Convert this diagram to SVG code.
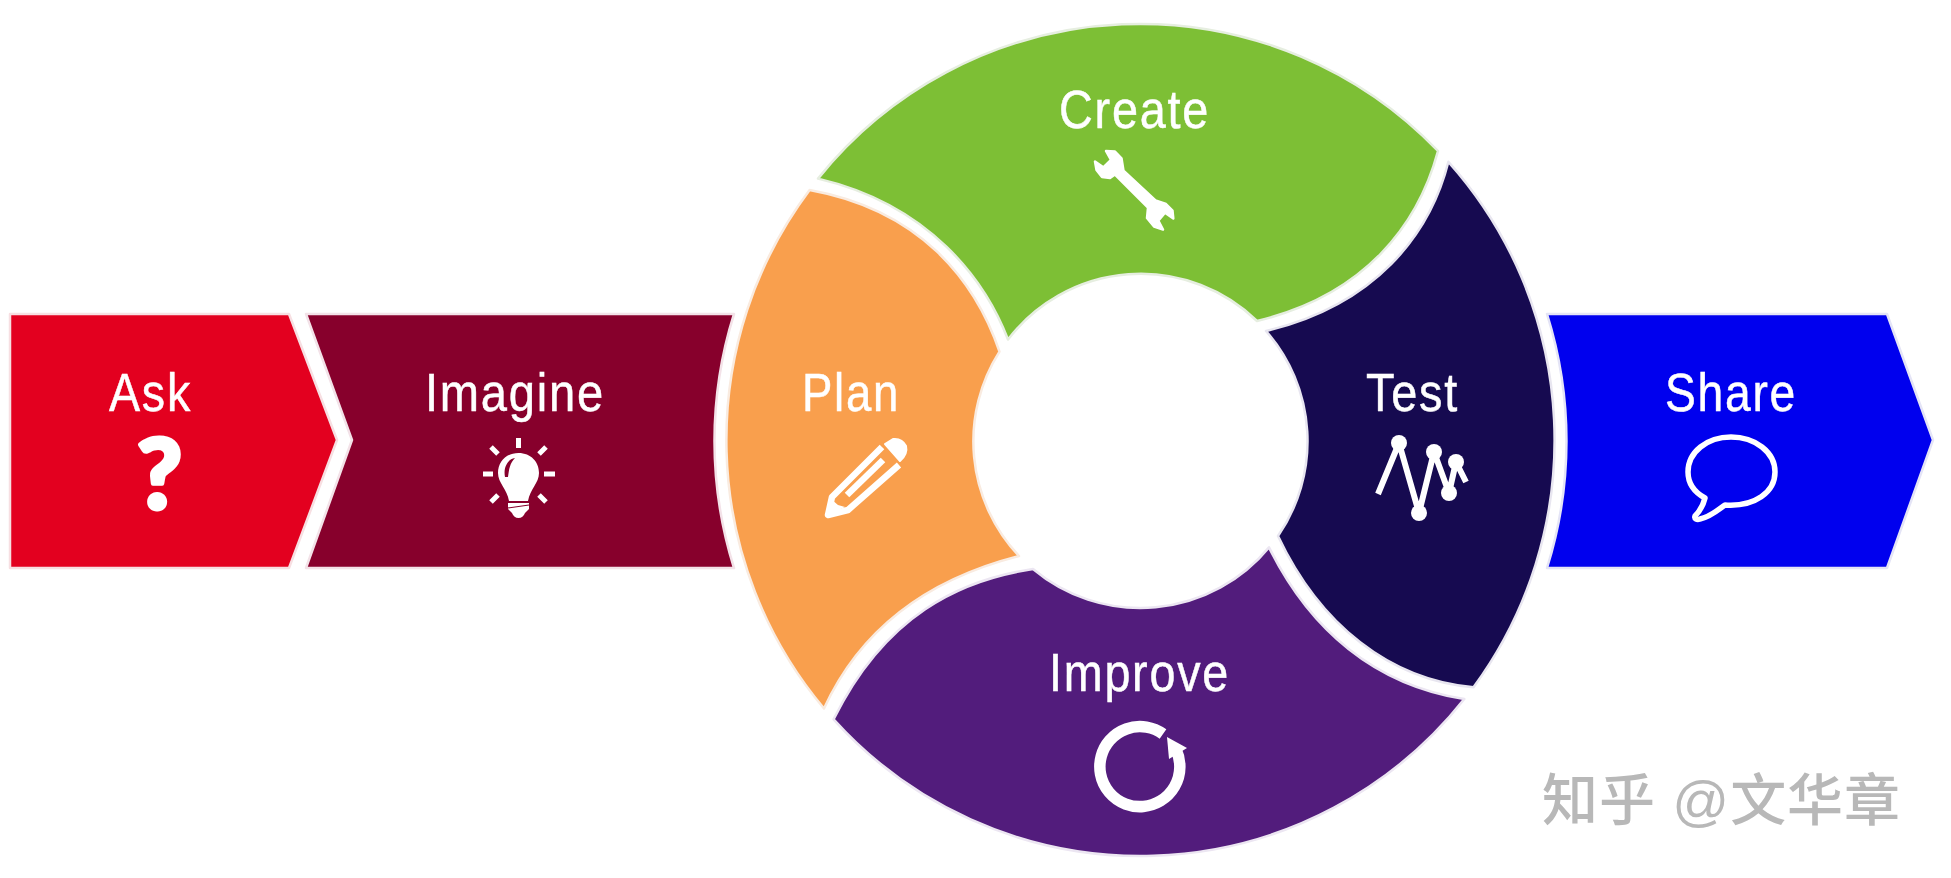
<svg xmlns="http://www.w3.org/2000/svg" width="1951" height="878" viewBox="0 0 1951 878">
<style>
.s{stroke-width:2.5;stroke-linejoin:round}
.t{font-family:"Liberation Sans",Arial,sans-serif;font-size:53px;fill:#fff;stroke:#fff;stroke-width:.5px;letter-spacing:2px}
.i{fill:none;stroke:#fff;stroke-linecap:butt;stroke-linejoin:round}
.f{fill:#fff}
.wm{font-family:"Liberation Sans","Noto Sans CJK SC",sans-serif;font-size:56px;font-weight:500;fill:#b8b8b8}
</style>
<rect width="1951" height="878" fill="#fff"/>
<g id="connectors"/>
<g id="ask">
<path class="s" fill="#e3001f" stroke="#f7dfe2" d="M10,314H289L337,440L289,568H10Z"/>
<text class="t" x="109" y="411" textLength="83" lengthAdjust="spacingAndGlyphs">Ask</text>
<text x="159.500" y="509" text-anchor="middle" font-family="Lato, Liberation Sans, sans-serif" font-weight="900" font-size="98" fill="#fff" stroke="#fff" stroke-width="4" stroke-linejoin="round">?</text>
</g>
<g id="imagine">
<path class="s" fill="#87002c" stroke="#f3e2e8" d="M306,314H734A423,423 0 0 0 734,568H306L352,440Z"/>
<text class="t" x="425" y="411" textLength="180" lengthAdjust="spacingAndGlyphs">Imagine</text>
<path class="f" d="M518.500,453C506,453 498,462 498,473C498,483 507,489 509,501H528C530,489 539,483 539,473C539,462 531,453 518.500,453Z"/>
<path d="M505,477C503,467 508,459 515,458C510,463 509,469 508,477Z" fill="#87002c"/>
<path class="f" d="M508,503H529V509L525,513Q523,518 518.500,518Q514,518 512,513L508,509Z"/>
<path d="M508,508L529,505" stroke="#87002c" stroke-width="1.200"/>
<path class="i" stroke-width="5" d="M518.500,438V448M491,447L498,454M546,447L539,454M483,474H493M544,474H555M491,502L498,495M546,502L539,495"/>
</g>
<g id="plan">
<path class="s" fill="#f99f4d" stroke="#f9ebe0" d="M809.600,190A414,416 0 0 0 824,708.500C860,630 925,580 1019,556A167,167 0 0 1 999.500,351.600C975,280 920,210 809.600,190Z"/>
<text class="t" x="802" y="411" textLength="98" lengthAdjust="spacingAndGlyphs">Plan</text>
<path class="i" stroke-width="6.500" d="M882,447L832,497L828,515L848,510L899,465"/>
<path class="i" stroke-width="6.500" d="M847,495L883,460"/>
<path class="f" stroke="#fff" stroke-width="2" stroke-linejoin="round" d="M885,444L893,439Q902,438 906,446Q908,454 900,461Z"/>
<path class="f" d="M831,499L838,505L845,507L830,514Z"/>
</g>
<g id="create">
<path class="s" fill="#7dbf35" stroke="#e6eee0" d="M818,178.600A414,416 0 0 1 1438,151C1418,225 1365,295 1257,321A167,167 0 0 0 1008,339.500C985,280 930,205 818,178.600Z"/>
<text class="t" x="1059" y="128" textLength="151" lengthAdjust="spacingAndGlyphs">Create</text>
<path class="f" stroke="#fff" stroke-width="2.500" stroke-linejoin="round" d="M1095,161.500L1096.500,170L1102,177L1110,178L1115,174.500L1148,207.500L1147,218L1154,226.500L1163,229.500L1158.300,220.700L1165,212.700L1173.300,218.500L1172.500,210.700L1166,204L1155.500,200.500L1123.500,170.700L1121.500,158.300L1115,151.500L1106,151L1111,160L1103.300,167.300Z"/>
</g>
<g id="test">
<path class="s" fill="#160a50" stroke="#e8e6f0" d="M1448.400,161.800A414,416 0 0 1 1473.500,687.300C1390,680 1320,625 1278,536A167,167 0 0 0 1266,331C1375,305 1430,235 1448.400,161.800Z"/>
<text class="t" x="1366" y="411" textLength="93" lengthAdjust="spacingAndGlyphs">Test</text>
<path class="i" stroke-width="6" d="M1378,494L1399,443L1419,513L1434,452L1449,493L1456,462L1466,482"/>
<circle class="f" cx="1399" cy="443" r="8"/><circle class="f" cx="1419" cy="513" r="8"/><circle class="f" cx="1434" cy="452" r="8"/><circle class="f" cx="1449" cy="493" r="8"/><circle class="f" cx="1456" cy="462" r="8"/>
</g>
<g id="improve">
<path class="s" fill="#521c7c" stroke="#ece6f2" d="M833.600,719.300A414,416 0 0 0 1464.300,699C1375,685 1310,630 1269,547.400A167,167 0 0 1 1033,569C960,580 885,615 833.600,719.300Z"/>
<text class="t" x="1049" y="691" textLength="181" lengthAdjust="spacingAndGlyphs">Improve</text>
<path class="i" stroke-width="11.500" d="M1163,734A40,40 0 1 0 1176,749.500"/>
<path class="f" d="M1167,737L1187,748L1169,759Z"/>
</g>
<g id="share">
<path class="s" fill="#0000ee" stroke="#e4e4f6" d="M1547,314H1887L1933,440L1887,568H1547A424,424 0 0 0 1547,314Z"/>
<text class="t" x="1665" y="411" textLength="132" lengthAdjust="spacingAndGlyphs">Share</text>
<path class="i" stroke-width="5.500" d="M1725,505C1755,507 1775,492 1775,472C1775,452 1755,437 1731,437C1707,437 1688,452 1688,472C1688,484 1694,492 1705,498C1703,506 1700,511 1695,516C1694,519 1697,520 1700,519C1710,517 1718,510 1725,505Z"/>
</g>
<text class="wm" x="1542" y="820" textLength="358" lengthAdjust="spacing">知乎 @文华章</text>
</svg>
